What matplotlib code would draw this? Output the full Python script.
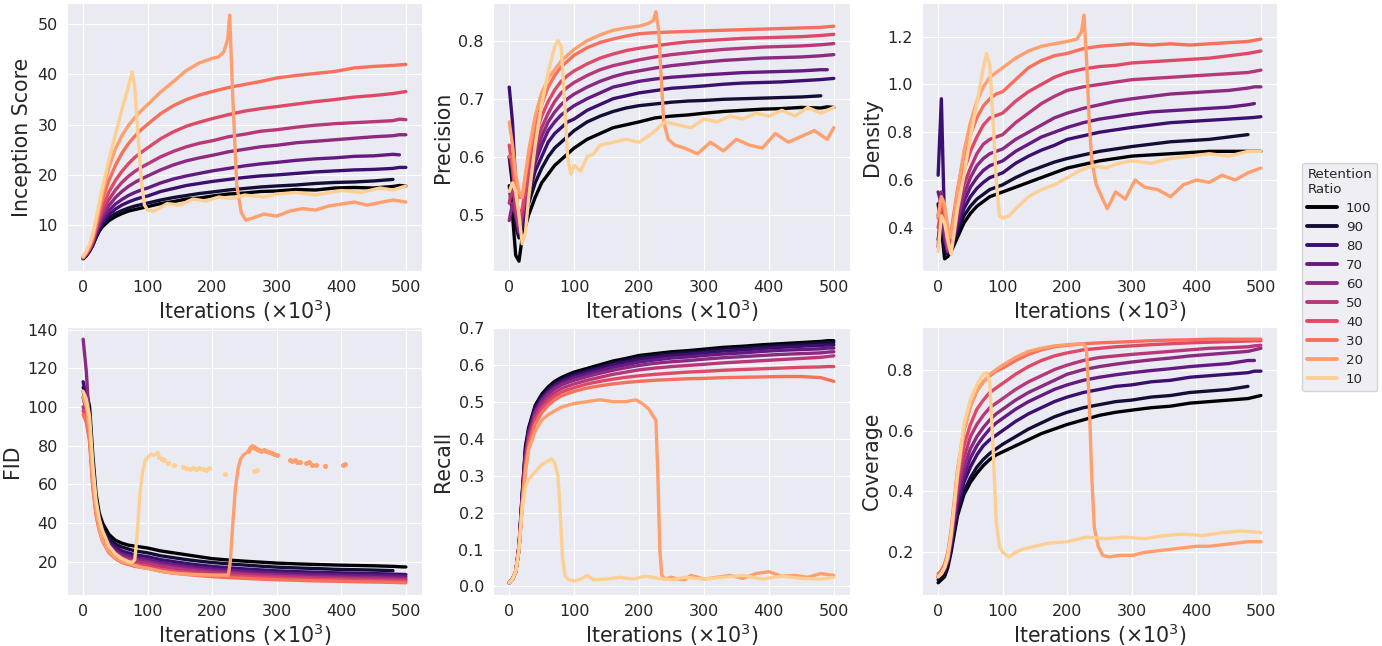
import numpy as np
import matplotlib
matplotlib.use("Agg")
import matplotlib.pyplot as plt
import seaborn as sns

nan = np.nan
ratios = [100, 90, 80, 70, 60, 50, 40, 30, 20, 10]

# shared iteration grid (x10^3) for the eight non-diverging runs
X = [0, 5, 10, 15, 20, 25, 30, 40, 50, 60, 70, 80, 90, 100, 120, 140, 160, 180, 200,
     225, 250, 275, 300, 330, 360, 390, 420, 450, 480, 490, 500]

# ---------------- Inception Score ----------------
is_main = {
    100: [3.3, 3.9, 4.8, 6.0, 7.5, 8.8, 9.7, 10.9, 11.7, 12.3, 12.8, 13.1, 13.4, 13.7, 14.3, 14.7, 15.2, 15.4, 15.8, 16.2, 16.4, 16.7, 16.8, 17.1, 17.0, 17.4, 17.5, 17.4, 17.7, 17.9, 17.8],
    90: [3.4, 4.0, 4.9, 6.1, 7.7, 9.0, 10.1, 11.4, 12.3, 12.9, 13.4, 13.8, 14.1, 14.4, 15.0, 15.5, 15.9, 16.3, 16.6, 17.0, 17.3, 17.6, 17.8, 18.0, 18.3, 18.5, 18.6, 18.8, 19.1, nan, nan],
    80: [3.4, 4.1, 5.0, 6.3, 8.0, 9.4, 10.6, 12.1, 13.2, 14.0, 14.6, 15.1, 15.5, 15.8, 16.7, 17.3, 17.9, 18.3, 18.7, 19.1, 19.5, 19.8, 20.0, 20.3, 20.6, 20.8, 21.0, 21.1, 21.3, 21.5, 21.5],
    70: [3.5, 4.2, 5.1, 6.4, 8.3, 9.8, 11.1, 12.9, 14.2, 15.1, 15.9, 16.5, 17.0, 17.4, 18.4, 19.2, 19.8, 20.3, 20.8, 21.3, 21.8, 22.2, 22.5, 22.9, 23.2, 23.4, 23.7, 23.8, 24.1, 24.0, nan],
    60: [3.5, 4.2, 5.2, 6.6, 8.6, 10.3, 11.8, 13.9, 15.5, 16.7, 17.7, 18.5, 19.2, 19.8, 21.0, 22.0, 22.8, 23.4, 23.9, 24.6, 25.1, 25.6, 25.9, 26.4, 26.7, 27.0, 27.3, 27.6, 27.8, 28.0, 28.0],
    50: [3.5, 4.3, 5.3, 6.8, 8.9, 10.9, 12.6, 15.1, 17.0, 18.5, 19.7, 20.7, 21.5, 22.2, 23.6, 24.7, 25.6, 26.3, 26.8, 27.6, 28.1, 28.7, 29.0, 29.5, 29.9, 30.2, 30.4, 30.6, 30.8, 31.1, 31.0],
    40: [3.6, 4.4, 5.4, 7.0, 9.3, 11.6, 13.6, 16.6, 18.9, 20.7, 22.2, 23.5, 24.5, 25.4, 27.2, 28.6, 29.7, 30.5, 31.2, 32.0, 32.7, 33.2, 33.6, 34.1, 34.6, 35.0, 35.5, 35.8, 36.2, 36.4, 36.6],
    30: [3.6, 4.5, 5.6, 7.3, 9.9, 12.6, 15.1, 18.9, 21.9, 24.3, 26.2, 27.7, 29.0, 30.1, 32.2, 33.8, 35.0, 35.9, 36.6, 37.4, 38.0, 38.6, 39.3, 39.8, 40.2, 40.6, 41.3, 41.6, 41.8, 41.9, 42.0],
}
is_x20 = [0, 5, 10, 15, 20, 30, 40, 50, 60, 70, 80, 90, 100, 120, 140, 160, 180, 200, 210, 218, 224, 227, 232, 238, 245, 252, 260, 280, 300, 320, 340, 360, 380, 400, 420, 440, 460, 480, 500]
is_y20 = [3.6, 4.7, 6.0, 7.8, 10.4, 16.5, 21.5, 25.2, 27.8, 29.8, 31.4, 32.8, 34.0, 36.5, 38.6, 40.8, 42.3, 43.2, 43.5, 44.5, 47.0, 51.8, 35.0, 18.0, 12.5, 11.0, 11.3, 12.2, 11.8, 12.8, 13.3, 13.0, 13.8, 14.2, 14.6, 14.0, 14.5, 15.0, 14.6]
is_x10 = [0, 5, 10, 15, 20, 30, 40, 50, 60, 70, 76, 80, 85, 90, 95, 100, 110, 130, 150, 170, 190, 210, 230, 250, 280, 300, 330, 360, 400, 430, 460, 480, 500]
is_y10 = [3.8, 4.8, 6.2, 8.2, 11.3, 17.5, 23.0, 28.0, 33.0, 37.5, 40.5, 37.5, 28.0, 19.0, 14.0, 13.0, 12.8, 14.3, 14.0, 15.2, 14.8, 15.6, 15.3, 16.0, 15.6, 16.2, 16.5, 16.0, 16.9, 16.5, 17.4, 17.0, 17.8]

# ---------------- Precision ----------------
prec_main = {
    100: [0.55, 0.50, 0.43, 0.42, 0.46, 0.48, 0.50, 0.53, 0.555, 0.57, 0.585, 0.595, 0.605, 0.615, 0.63, 0.64, 0.65, 0.655, 0.66, 0.667, 0.67, 0.672, 0.675, 0.678, 0.68, 0.682, 0.683, 0.685, 0.684, 0.686, 0.685],
    90: [0.60, 0.55, 0.48, 0.46, 0.48, 0.50, 0.52, 0.555, 0.58, 0.60, 0.615, 0.625, 0.635, 0.645, 0.66, 0.67, 0.678, 0.684, 0.688, 0.691, 0.694, 0.696, 0.697, 0.699, 0.70, 0.701, 0.702, 0.703, 0.705, nan, nan],
    80: [0.72, 0.66, 0.55, 0.47, 0.48, 0.51, 0.535, 0.575, 0.60, 0.625, 0.64, 0.65, 0.66, 0.665, 0.68, 0.69, 0.70, 0.705, 0.71, 0.714, 0.718, 0.72, 0.722, 0.725, 0.727, 0.728, 0.729, 0.731, 0.733, 0.734, 0.735],
    70: [0.60, 0.58, 0.52, 0.47, 0.49, 0.52, 0.545, 0.59, 0.62, 0.645, 0.66, 0.672, 0.68, 0.688, 0.70, 0.71, 0.72, 0.725, 0.73, 0.734, 0.737, 0.739, 0.741, 0.743, 0.745, 0.746, 0.747, 0.748, 0.75, 0.75, nan],
    60: [0.49, 0.52, 0.50, 0.47, 0.50, 0.53, 0.555, 0.60, 0.635, 0.66, 0.677, 0.69, 0.70, 0.708, 0.72, 0.73, 0.738, 0.744, 0.748, 0.753, 0.757, 0.76, 0.763, 0.766, 0.768, 0.77, 0.771, 0.772, 0.774, 0.775, 0.776],
    50: [0.52, 0.55, 0.51, 0.48, 0.50, 0.535, 0.565, 0.615, 0.65, 0.675, 0.695, 0.71, 0.72, 0.728, 0.74, 0.75, 0.757, 0.762, 0.767, 0.772, 0.776, 0.779, 0.782, 0.785, 0.787, 0.789, 0.79, 0.791, 0.793, 0.794, 0.795],
    40: [0.62, 0.58, 0.53, 0.50, 0.51, 0.545, 0.58, 0.635, 0.67, 0.695, 0.715, 0.73, 0.74, 0.748, 0.76, 0.77, 0.777, 0.783, 0.787, 0.791, 0.795, 0.798, 0.80, 0.802, 0.804, 0.805, 0.806, 0.807, 0.809, 0.81, 0.811],
    30: [0.60, 0.60, 0.55, 0.53, 0.53, 0.565, 0.60, 0.655, 0.69, 0.72, 0.74, 0.755, 0.765, 0.775, 0.788, 0.797, 0.803, 0.808, 0.812, 0.814, 0.815, 0.816, 0.817, 0.818, 0.819, 0.82, 0.821, 0.822, 0.823, 0.824, 0.825],
}
prec_x20 = [0, 5, 10, 15, 20, 30, 40, 50, 60, 70, 80, 90, 100, 120, 140, 160, 180, 200, 215, 222, 226, 230, 234, 238, 245, 255, 270, 290, 310, 330, 350, 370, 390, 410, 430, 450, 470, 490, 500]
prec_y20 = [0.66, 0.62, 0.57, 0.54, 0.53, 0.61, 0.67, 0.71, 0.735, 0.75, 0.765, 0.775, 0.785, 0.80, 0.81, 0.818, 0.822, 0.825, 0.83, 0.835, 0.85, 0.82, 0.74, 0.66, 0.63, 0.62, 0.615, 0.605, 0.625, 0.61, 0.63, 0.62, 0.615, 0.64, 0.625, 0.635, 0.645, 0.63, 0.65]
prec_x10 = [0, 5, 10, 15, 20, 25, 30, 40, 50, 60, 70, 75, 80, 85, 90, 95, 100, 110, 120, 130, 140, 160, 180, 200, 220, 240, 260, 280, 300, 320, 340, 360, 380, 400, 420, 440, 460, 480, 500]
prec_y10 = [0.54, 0.555, 0.54, 0.50, 0.45, 0.47, 0.53, 0.62, 0.69, 0.745, 0.79, 0.80, 0.79, 0.70, 0.60, 0.57, 0.585, 0.575, 0.60, 0.605, 0.62, 0.625, 0.63, 0.625, 0.64, 0.66, 0.655, 0.65, 0.665, 0.66, 0.67, 0.665, 0.675, 0.67, 0.68, 0.67, 0.685, 0.675, 0.685]

# ---------------- Density ----------------
dens_main = {
    100: [0.50, 0.40, 0.27, 0.28, 0.30, 0.33, 0.36, 0.42, 0.46, 0.49, 0.51, 0.53, 0.54, 0.55, 0.57, 0.59, 0.61, 0.63, 0.65, 0.665, 0.68, 0.69, 0.70, 0.705, 0.71, 0.715, 0.72, 0.72, 0.72, 0.72, 0.72],
    90: [0.35, 0.45, 0.30, 0.29, 0.31, 0.34, 0.38, 0.45, 0.49, 0.52, 0.54, 0.56, 0.57, 0.58, 0.61, 0.635, 0.655, 0.675, 0.69, 0.705, 0.72, 0.73, 0.74, 0.75, 0.76, 0.765, 0.77, 0.78, 0.79, nan, nan],
    80: [0.62, 0.94, 0.40, 0.30, 0.32, 0.36, 0.40, 0.48, 0.53, 0.565, 0.59, 0.61, 0.62, 0.63, 0.67, 0.70, 0.725, 0.745, 0.77, 0.785, 0.80, 0.81, 0.82, 0.83, 0.84, 0.845, 0.85, 0.855, 0.86, 0.862, 0.865],
    70: [0.55, 0.50, 0.35, 0.30, 0.33, 0.37, 0.42, 0.51, 0.57, 0.61, 0.64, 0.66, 0.67, 0.68, 0.72, 0.75, 0.78, 0.80, 0.82, 0.84, 0.855, 0.865, 0.875, 0.885, 0.89, 0.895, 0.90, 0.905, 0.915, 0.92, nan],
    60: [0.45, 0.55, 0.38, 0.30, 0.34, 0.39, 0.44, 0.54, 0.61, 0.66, 0.69, 0.71, 0.72, 0.73, 0.77, 0.80, 0.83, 0.86, 0.88, 0.90, 0.915, 0.93, 0.94, 0.95, 0.96, 0.965, 0.97, 0.975, 0.985, 0.99, 0.99],
    50: [0.32, 0.50, 0.42, 0.31, 0.35, 0.41, 0.47, 0.58, 0.65, 0.71, 0.75, 0.77, 0.78, 0.79, 0.84, 0.88, 0.92, 0.95, 0.975, 0.99, 1.0, 1.01, 1.02, 1.025, 1.03, 1.035, 1.04, 1.045, 1.05, 1.055, 1.06],
    40: [0.40, 0.48, 0.45, 0.32, 0.36, 0.44, 0.52, 0.64, 0.72, 0.78, 0.83, 0.86, 0.87, 0.88, 0.93, 0.97, 1.0, 1.03, 1.05, 1.065, 1.075, 1.08, 1.09, 1.095, 1.10, 1.105, 1.11, 1.12, 1.13, 1.135, 1.14],
    30: [0.44, 0.52, 0.47, 0.34, 0.38, 0.47, 0.56, 0.70, 0.79, 0.86, 0.91, 0.94, 0.96, 0.97, 1.02, 1.07, 1.10, 1.12, 1.13, 1.15, 1.16, 1.165, 1.17, 1.165, 1.17, 1.165, 1.17, 1.175, 1.18, 1.185, 1.19],
}
dens_x20 = [0, 5, 10, 15, 20, 25, 30, 40, 50, 60, 70, 80, 90, 100, 120, 140, 160, 180, 200, 215, 222, 226, 230, 234, 238, 245, 255, 262, 275, 290, 305, 320, 340, 360, 380, 400, 420, 440, 460, 480, 500]
dens_y20 = [0.45, 0.53, 0.50, 0.40, 0.36, 0.45, 0.55, 0.72, 0.84, 0.93, 0.99, 1.03, 1.05, 1.07, 1.11, 1.14, 1.16, 1.17, 1.18, 1.19, 1.22, 1.29, 1.10, 0.85, 0.68, 0.58, 0.52, 0.48, 0.55, 0.52, 0.60, 0.57, 0.56, 0.53, 0.58, 0.60, 0.59, 0.62, 0.60, 0.63, 0.65]
dens_x10 = [0, 5, 10, 15, 20, 25, 30, 40, 50, 60, 70, 75, 80, 85, 90, 95, 100, 110, 120, 140, 160, 180, 200, 220, 240, 260, 280, 300, 330, 360, 390, 420, 450, 480, 500]
dens_y10 = [0.30, 0.45, 0.42, 0.35, 0.29, 0.38, 0.48, 0.62, 0.78, 0.92, 1.07, 1.13, 1.08, 0.85, 0.60, 0.45, 0.44, 0.45, 0.48, 0.53, 0.56, 0.58, 0.61, 0.64, 0.66, 0.65, 0.67, 0.68, 0.67, 0.69, 0.70, 0.71, 0.70, 0.72, 0.72]

# ---------------- FID ----------------
fid_main = {
    100: [110, 108, 100, 75, 55, 45, 40, 34, 31, 29.5, 28.5, 28, 27.5, 27, 25.5, 24.5, 23.5, 22.5, 21.5, 20.8, 20.2, 19.7, 19.2, 18.8, 18.5, 18.2, 18.0, 17.8, 17.5, 17.3, 17.2],
    90: [108, 103, 95, 70, 52, 43, 38, 32, 29, 27.5, 26.5, 25.5, 25, 24.5, 23, 22, 21, 20.2, 19.5, 18.8, 18.2, 17.6, 17.1, 16.7, 16.4, 16.0, 15.8, 15.6, 15.3, nan, nan],
    80: [113, 105, 92, 68, 50, 41, 36, 30.5, 27.5, 25.5, 24.5, 23.5, 23, 22.5, 21, 20, 19, 18.2, 17.5, 16.8, 16.2, 15.7, 15.2, 14.8, 14.5, 14.2, 14.0, 13.8, 13.5, 13.4, 13.3],
    70: [105, 98, 88, 65, 48, 40, 35, 29, 26, 24, 23, 22, 21.5, 21, 19.5, 18.5, 17.5, 16.8, 16.2, 15.6, 15.0, 14.5, 14.1, 13.7, 13.4, 13.1, 12.9, 12.7, 12.5, 12.4, 12.3],
    60: [135, 118, 90, 64, 47, 39, 34, 28, 25, 23, 22, 21, 20.5, 20, 18.5, 17.5, 16.6, 15.8, 15.2, 14.6, 14.0, 13.5, 13.1, 12.7, 12.4, 12.1, 11.9, 11.7, 11.5, 11.4, 11.3],
    50: [100, 95, 86, 62, 46, 38, 33, 27, 24, 22, 21, 20, 19.5, 19, 17.5, 16.5, 15.6, 14.9, 14.3, 13.7, 13.2, 12.7, 12.3, 11.9, 11.6, 11.4, 11.2, 11.0, 10.8, 10.7, 10.6],
    40: [98, 93, 84, 60, 45, 37, 31.5, 25.5, 22.5, 20.5, 19.5, 18.5, 18, 17.5, 16, 15, 14.3, 13.7, 13.2, 12.7, 12.2, 11.8, 11.4, 11.1, 10.8, 10.6, 10.4, 10.2, 10.0, 9.9, 9.8],
    30: [96, 92, 82, 58, 44, 36, 30.5, 24.5, 21.5, 19.5, 18.5, 17.5, 17, 16.5, 15, 14, 13.3, 12.7, 12.2, 11.7, 11.3, 10.9, 10.6, 10.3, 10.0, 9.8, 9.6, 9.4, 9.2, 9.1, 9.0],
}
fid_x20 = [0, 5, 10, 15, 20, 25, 30, 40, 50, 60, 70, 80, 90, 100, 120, 140, 160, 180, 200, 215, 225, 228, 232, 236, 240, 244, 248, 252]
fid_y20 = [105, 100, 88, 62, 46, 37, 31, 25, 22, 20, 19, 18, 17, 16.5, 15, 14, 13.5, 13.2, 13, 13, 13, 20, 40, 58, 68, 73, 75, 76]
fid_x10 = [0, 5, 10, 15, 20, 25, 30, 40, 50, 60, 70, 76, 80, 84, 88, 92, 96, 100, 105, 110]
fid_y10 = [108, 104, 95, 70, 52, 42, 36, 28, 24, 21.5, 20, 19.5, 21, 35, 55, 66, 72, 74, 75.5, 75]
fid_tail_x10 = [115, 118, 122, 126, 132, 140, 155, 160, 165, 170, 175, 180, 185, 190, 195, 220, 265, 270]
fid_tail_y10 = [76, 74, 73, 72.5, 71, 70, 69, 68.5, 68, 68.5, 68, 68.5, 68, 67.5, 68.5, 65.5, 67, 67.5]
fid_tail_x20 = [255, 258, 261, 264, 267, 270, 273, 276, 280, 284, 288, 292, 296, 300, 320, 324, 328, 332, 336, 345, 350, 355, 360, 375, 402, 405]
fid_tail_y20 = [77, 78.5, 79.5, 79, 78.5, 78, 77.5, 77, 77.5, 77, 76.5, 76, 75.5, 75, 72.5, 72, 72.5, 71.5, 71.5, 71, 71.5, 70, 70, 69.5, 70, 70.5]

# ---------------- Recall ----------------
rec_main = {
    100: [0.01, 0.02, 0.04, 0.11, 0.25, 0.38, 0.43, 0.49, 0.52, 0.54, 0.555, 0.565, 0.573, 0.58, 0.59, 0.60, 0.61, 0.617, 0.625, 0.63, 0.635, 0.638, 0.642, 0.647, 0.65, 0.654, 0.657, 0.66, 0.663, 0.665, 0.665],
    90: [0.01, 0.02, 0.04, 0.11, 0.25, 0.37, 0.425, 0.485, 0.515, 0.535, 0.55, 0.56, 0.568, 0.575, 0.585, 0.595, 0.605, 0.612, 0.62, 0.625, 0.63, 0.633, 0.637, 0.642, 0.645, 0.649, 0.652, 0.655, 0.658, 0.66, 0.66],
    80: [0.01, 0.02, 0.04, 0.10, 0.24, 0.36, 0.42, 0.48, 0.51, 0.53, 0.545, 0.555, 0.563, 0.57, 0.58, 0.59, 0.6, 0.607, 0.614, 0.62, 0.625, 0.628, 0.632, 0.637, 0.64, 0.644, 0.647, 0.65, 0.652, 0.653, 0.653],
    70: [0.01, 0.02, 0.04, 0.10, 0.24, 0.355, 0.415, 0.475, 0.505, 0.525, 0.54, 0.55, 0.558, 0.565, 0.575, 0.584, 0.593, 0.6, 0.607, 0.613, 0.618, 0.621, 0.625, 0.629, 0.632, 0.636, 0.639, 0.641, 0.643, 0.645, 0.645],
    60: [0.01, 0.02, 0.04, 0.10, 0.23, 0.35, 0.41, 0.47, 0.50, 0.52, 0.535, 0.545, 0.552, 0.558, 0.568, 0.577, 0.585, 0.592, 0.598, 0.604, 0.608, 0.611, 0.615, 0.619, 0.622, 0.625, 0.628, 0.63, 0.632, 0.634, 0.635],
    50: [0.01, 0.02, 0.04, 0.10, 0.23, 0.34, 0.40, 0.46, 0.49, 0.51, 0.525, 0.535, 0.542, 0.548, 0.558, 0.566, 0.574, 0.58, 0.586, 0.591, 0.595, 0.598, 0.601, 0.605, 0.608, 0.611, 0.614, 0.617, 0.62, 0.622, 0.624],
    40: [0.01, 0.02, 0.04, 0.10, 0.22, 0.33, 0.39, 0.45, 0.48, 0.50, 0.515, 0.525, 0.532, 0.538, 0.548, 0.555, 0.561, 0.566, 0.57, 0.574, 0.577, 0.58, 0.582, 0.585, 0.587, 0.589, 0.591, 0.593, 0.594, 0.595, 0.595],
    30: [0.01, 0.02, 0.04, 0.10, 0.22, 0.32, 0.38, 0.44, 0.47, 0.49, 0.505, 0.515, 0.522, 0.528, 0.537, 0.543, 0.548, 0.552, 0.555, 0.558, 0.56, 0.562, 0.563, 0.565, 0.566, 0.567, 0.568, 0.568, 0.565, 0.56, 0.555],
}
rec_x20 = [0, 5, 10, 15, 20, 25, 30, 40, 50, 60, 70, 80, 90, 100, 120, 140, 160, 180, 195, 205, 215, 222, 226, 229, 232, 235, 240, 250, 260, 270, 280, 300, 320, 340, 360, 380, 400, 420, 440, 460, 480, 500]
rec_y20 = [0.01, 0.02, 0.04, 0.10, 0.22, 0.31, 0.37, 0.42, 0.45, 0.465, 0.475, 0.485, 0.49, 0.495, 0.50, 0.505, 0.50, 0.50, 0.505, 0.495, 0.48, 0.46, 0.45, 0.30, 0.10, 0.03, 0.02, 0.025, 0.02, 0.018, 0.03, 0.02, 0.025, 0.03, 0.022, 0.035, 0.04, 0.028, 0.03, 0.025, 0.035, 0.03]
rec_x10 = [0, 5, 10, 15, 20, 25, 30, 40, 50, 60, 65, 70, 75, 78, 82, 86, 90, 100, 110, 120, 130, 150, 170, 190, 210, 230, 250, 270, 300, 330, 360, 390, 420, 450, 480, 500]
rec_y10 = [0.01, 0.02, 0.04, 0.10, 0.21, 0.27, 0.29, 0.31, 0.33, 0.34, 0.345, 0.335, 0.30, 0.22, 0.08, 0.03, 0.02, 0.015, 0.02, 0.03, 0.018, 0.02, 0.025, 0.02, 0.028, 0.022, 0.018, 0.025, 0.02, 0.025, 0.03, 0.02, 0.028, 0.022, 0.02, 0.025]

# ---------------- Coverage ----------------
cov_main = {
    100: [0.10, 0.11, 0.12, 0.15, 0.20, 0.26, 0.32, 0.39, 0.43, 0.46, 0.485, 0.505, 0.52, 0.53, 0.55, 0.57, 0.59, 0.605, 0.62, 0.635, 0.65, 0.66, 0.667, 0.675, 0.68, 0.69, 0.695, 0.70, 0.705, 0.71, 0.715],
    90: [0.11, 0.12, 0.13, 0.16, 0.21, 0.27, 0.33, 0.40, 0.445, 0.48, 0.505, 0.525, 0.54, 0.555, 0.58, 0.605, 0.625, 0.645, 0.66, 0.675, 0.685, 0.695, 0.70, 0.71, 0.715, 0.725, 0.73, 0.735, 0.745, nan, nan],
    80: [0.12, 0.13, 0.14, 0.17, 0.22, 0.29, 0.35, 0.43, 0.48, 0.52, 0.55, 0.57, 0.585, 0.60, 0.63, 0.655, 0.675, 0.695, 0.71, 0.725, 0.735, 0.745, 0.75, 0.76, 0.765, 0.775, 0.78, 0.785, 0.79, 0.795, 0.795],
    70: [0.12, 0.13, 0.14, 0.17, 0.23, 0.30, 0.37, 0.45, 0.51, 0.55, 0.58, 0.605, 0.625, 0.64, 0.67, 0.695, 0.715, 0.735, 0.75, 0.765, 0.775, 0.783, 0.79, 0.797, 0.803, 0.81, 0.815, 0.82, 0.83, 0.83, nan],
    60: [0.12, 0.13, 0.15, 0.18, 0.24, 0.32, 0.39, 0.48, 0.54, 0.58, 0.61, 0.635, 0.655, 0.67, 0.70, 0.725, 0.745, 0.765, 0.785, 0.80, 0.81, 0.818, 0.825, 0.832, 0.838, 0.845, 0.85, 0.855, 0.86, 0.865, 0.87],
    50: [0.12, 0.13, 0.15, 0.18, 0.25, 0.33, 0.41, 0.51, 0.58, 0.62, 0.65, 0.675, 0.69, 0.705, 0.735, 0.76, 0.78, 0.80, 0.815, 0.83, 0.84, 0.845, 0.85, 0.855, 0.86, 0.865, 0.87, 0.872, 0.875, 0.878, 0.88],
    40: [0.12, 0.14, 0.16, 0.19, 0.26, 0.35, 0.44, 0.55, 0.62, 0.67, 0.70, 0.725, 0.74, 0.755, 0.785, 0.81, 0.83, 0.845, 0.855, 0.865, 0.87, 0.875, 0.878, 0.882, 0.885, 0.888, 0.89, 0.892, 0.894, 0.895, 0.895],
    30: [0.13, 0.14, 0.16, 0.20, 0.27, 0.37, 0.47, 0.60, 0.68, 0.73, 0.76, 0.78, 0.795, 0.805, 0.83, 0.85, 0.865, 0.875, 0.88, 0.885, 0.888, 0.89, 0.892, 0.895, 0.897, 0.898, 0.9, 0.9, 0.9, 0.9, 0.9],
}
cov_x20 = [0, 5, 10, 15, 20, 25, 30, 40, 50, 60, 70, 80, 90, 100, 120, 140, 160, 180, 200, 220, 226, 230, 234, 238, 242, 248, 255, 265, 280, 300, 320, 340, 360, 380, 400, 420, 440, 460, 480, 500]
cov_y20 = [0.12, 0.13, 0.15, 0.18, 0.25, 0.35, 0.45, 0.60, 0.68, 0.73, 0.76, 0.785, 0.80, 0.815, 0.84, 0.86, 0.87, 0.878, 0.882, 0.885, 0.885, 0.86, 0.70, 0.45, 0.28, 0.22, 0.19, 0.185, 0.19, 0.19, 0.20, 0.205, 0.21, 0.215, 0.22, 0.22, 0.225, 0.23, 0.235, 0.235]
cov_x10 = [0, 5, 10, 15, 20, 25, 30, 40, 50, 60, 70, 75, 80, 85, 90, 95, 100, 110, 120, 130, 150, 170, 200, 230, 260, 290, 320, 350, 380, 410, 440, 470, 500]
cov_y10 = [0.12, 0.13, 0.15, 0.19, 0.26, 0.36, 0.46, 0.62, 0.70, 0.75, 0.785, 0.79, 0.76, 0.55, 0.30, 0.22, 0.20, 0.185, 0.20, 0.21, 0.22, 0.23, 0.235, 0.25, 0.245, 0.25, 0.245, 0.255, 0.26, 0.255, 0.265, 0.27, 0.265]

ylabels = ["Inception Score", "Precision", "Density", "FID", "Recall", "Coverage"]
xlabel = r"Iterations ($\times 10^3$)"
xticks = [0, 100, 200, 300, 400, 500]
prec_yticks = [0.5, 0.6, 0.7, 0.8]
rec_yticks = [0.0, 0.1, 0.2, 0.3, 0.4, 0.5, 0.6, 0.7]

# ---------------- style ----------------
sns.set_style("darkgrid")
plt.rcParams["font.family"] = ["DejaVu Sans"]
plt.rcParams["mathtext.fontset"] = "dejavusans"

cmap = matplotlib.colormaps["magma"]
colors = {r: cmap(0.1 * i) for i, r in enumerate(ratios)}

fig = plt.figure(figsize=(13.82, 6.46), dpi=100)
W, H = 1382.0, 646.0
lefts = [67, 493, 922]
widths = [355, 357, 355]
tops = [3, 327]
height = 268

panels = [
    (is_main, (is_x20, is_y20), (is_x10, is_y10), None),
    (prec_main, (prec_x20, prec_y20), (prec_x10, prec_y10), None),
    (dens_main, (dens_x20, dens_y20), (dens_x10, dens_y10), None),
    (fid_main, (fid_x20, fid_y20), (fid_x10, fid_y10),
     ((fid_tail_x20, fid_tail_y20), (fid_tail_x10, fid_tail_y10))),
    (rec_main, (rec_x20, rec_y20), (rec_x10, rec_y10), None),
    (cov_main, (cov_x20, cov_y20), (cov_x10, cov_y10), None),
]

lw = 2.4
handles = []
axes = []
for k, (main, s20, s10, tails) in enumerate(panels):
    row, col = divmod(k, 3)
    ax = fig.add_axes([lefts[col] / W, 1 - (tops[row] + height) / H, widths[col] / W, height / H])
    axes.append(ax)
    hs = []
    for r in ratios[:8]:
        h, = ax.plot(X, main[r], color=colors[r], lw=lw, label=str(r))
        hs.append(h)
    h, = ax.plot(s20[0], s20[1], color=colors[20], lw=lw, label="20")
    hs.append(h)
    h, = ax.plot(s10[0], s10[1], color=colors[10], lw=lw, label="10")
    hs.append(h)
    if tails is not None:
        ax.plot(tails[0][0], tails[0][1], ls="none", marker="o", ms=2.6, color=colors[20])
        ax.plot(tails[1][0], tails[1][1], ls="none", marker="o", ms=2.6, color=colors[10])
    if k == 0:
        handles = hs
    ax.set_xticks(xticks)
    ax.tick_params(axis="both", labelsize=11.5, pad=3)
    ax.set_xlabel(xlabel, fontsize=14.8, labelpad=2)
    ax.set_ylabel(ylabels[k], fontsize=14.8, labelpad=4)

axes[1].set_yticks(prec_yticks)
axes[1].set_ylim(0.403, 0.865)
axes[4].set_yticks(rec_yticks)
axes[4].set_ylim(-0.023, 0.702)

leg = fig.legend(handles, [str(r) for r in ratios], title="Retention\nRatio",
                 loc="center left", bbox_to_anchor=(1302 / W, 1 - 277 / H),
                 borderaxespad=0.0,
                 fontsize=9.6, title_fontsize=9.6, frameon=True, handlelength=2.2,
                 handletextpad=0.7, borderpad=0.4, labelspacing=0.45)
leg._legend_box.align = "left"
for lh in leg.get_lines():
    lh.set_linewidth(2.8)

fig.savefig("out.png", dpi=100)
